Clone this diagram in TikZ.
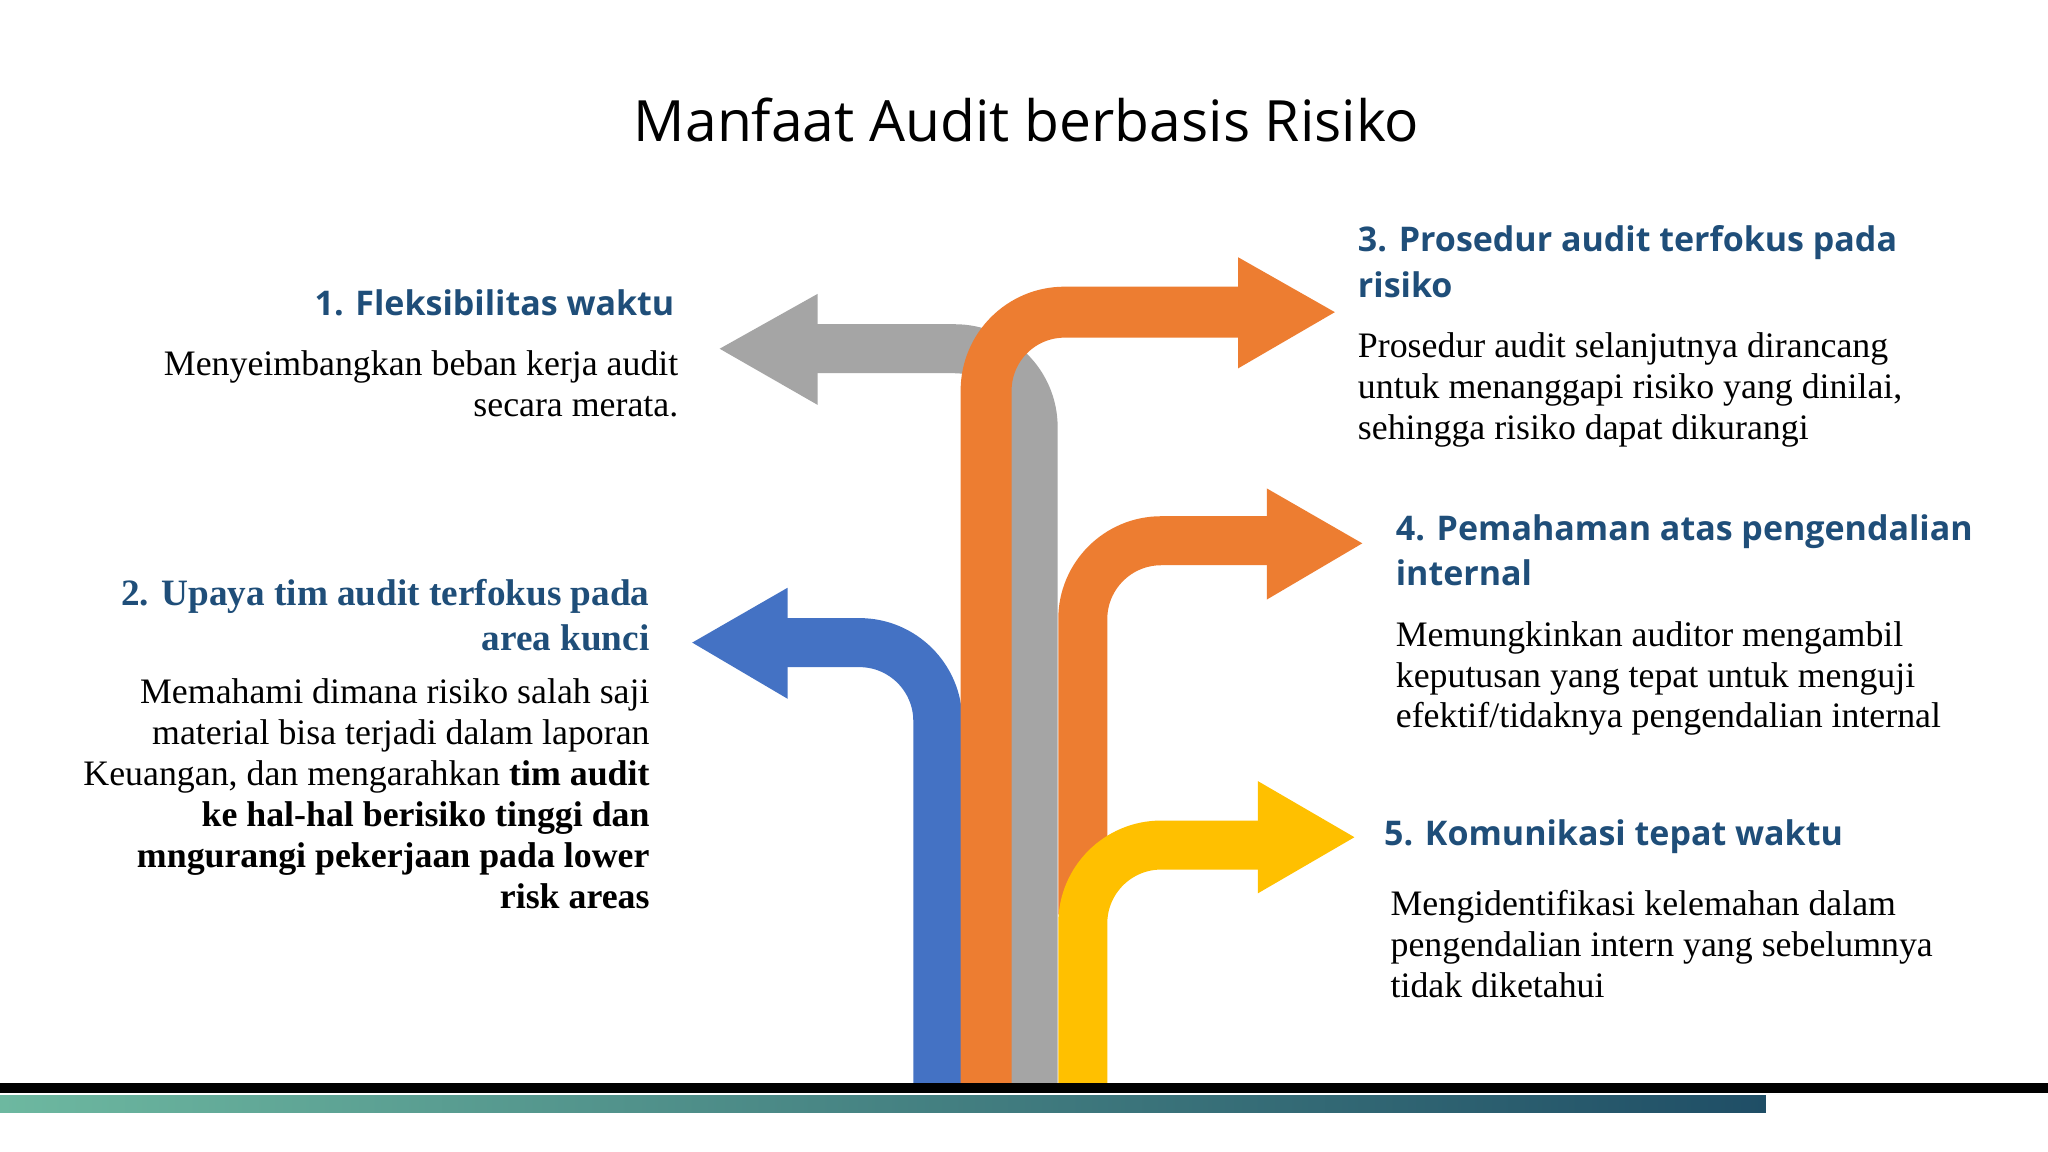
\documentclass[tikz,border=0pt]{standalone}
\usepackage{fontspec}
\setmainfont{Liberation Serif}
\newfontfamily\headfont{Open Sans}
\definecolor{hblue}{HTML}{1F4E79}
\definecolor{cgray}{HTML}{A5A5A5}
\definecolor{corange}{HTML}{ED7D31}
\definecolor{cyellow}{HTML}{FFC000}
\definecolor{cblue}{HTML}{4472C4}
\definecolor{bteal}{HTML}{6DB8A0}
\definecolor{bdark}{HTML}{1F4E66}
\begin{document}
\begin{tikzpicture}[x=0.01cm,y=-0.01cm,
  band/.style={line width=0.375cm, rounded corners=0.6cm},
  head/.style={text=hblue, inner sep=0pt, font=\headfont\bfseries\fontsize{7.4}{10}\selectfont},
  body/.style={inner sep=0pt, font=\fontsize{7.8}{8.9}\selectfont}]
\useasboundingbox (0,0) rectangle (1568,882);
\fill[white] (0,0) rectangle (1568,882);
% orange small
\draw[band, corange] (829,700) -- (829,414) -- (972,414);
\fill[corange] (970,374) -- (1043,416) -- (970,459) -- cycle;
% yellow
\draw[band, cyellow] (829,830) -- (829,647) -- (965,647);
\fill[cyellow] (963,598) -- (1037,641) -- (963,684) -- cycle;
% gray
\draw[band, cgray] (791,830) -- (791,267) -- (624,267);
\fill[cgray] (626,225) -- (551,267) -- (626,310) -- cycle;
% blue
\draw[band, cblue] (718,830) -- (718,492) -- (601,492);
\fill[cblue] (603,450) -- (530,492) -- (603,535) -- cycle;
% orange big
\draw[band, corange, line width=0.39cm] (755,830) -- (755,239) -- (950,239);
\fill[corange] (948,197) -- (1022,239) -- (948,282) -- cycle;
% bottom bars
\fill[black] (0,829) rectangle (1568,837);
\shade[left color=bteal, right color=bdark] (0,839) rectangle (1352,852);
% title
\node[font=\headfont\fontsize{12.4}{14}\selectfont] (title) at (786,92) {Manfaat Audit berbasis Risiko};
% left texts
\node[head, anchor=north east, align=right] (h1) at (517,221) {1. Fleksibilitas waktu};
\node[body, anchor=north east, align=right] (b1) at (520,268) {Menyeimbangkan beban kerja audit\\secara merata.};
\node[head, anchor=north east, align=right, font=\bfseries\fontsize{8.1}{9.8}\selectfont] (h2) at (498,443) {2. Upaya tim audit terfokus pada\\area kunci};
\node[body, anchor=north east, align=right] (b2) at (498,519) {Memahami dimana risiko salah saji\\material bisa terjadi dalam laporan\\Keuangan, dan mengarahkan \textbf{tim audit}\\\textbf{ke hal-hal berisiko tinggi dan}\\\textbf{mngurangi pekerjaan pada lower}\\\textbf{risk areas}};
% right texts
\node[head, anchor=north west, align=left] (h3) at (1039,172) {3. Prosedur audit terfokus pada\\risiko};
\node[body, anchor=north west, align=left] (b3) at (1039,254) {Prosedur audit selanjutnya dirancang\\untuk menanggapi risiko yang dinilai,\\sehingga risiko dapat dikurangi};
\node[head, anchor=north west, align=left] (h4) at (1068,393) {4. Pemahaman atas pengendalian\\internal};
\node[body, anchor=north west, align=left] (b4) at (1068,475) {Memungkinkan auditor mengambil\\keputusan yang tepat untuk menguji\\efektif/tidaknya pengendalian internal};
\node[head, anchor=north west, align=left] (h5) at (1059,627) {5. Komunikasi tepat waktu};
\node[body, anchor=north west, align=left] (b5) at (1064,681) {Mengidentifikasi kelemahan dalam\\pengendalian intern yang sebelumnya\\tidak diketahui};
\end{tikzpicture}
\end{document}
